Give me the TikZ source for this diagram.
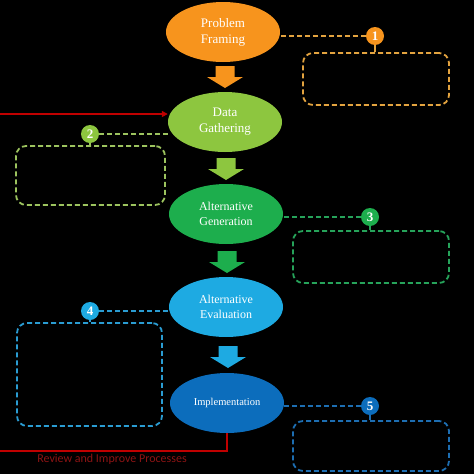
\documentclass[tikz,border=0pt]{standalone}
\usepackage{fontspec}
\setmainfont{Liberation Serif}
\newfontfamily\calibrifont{Carlito}
\usetikzlibrary{shapes.geometric,arrows.meta}

\definecolor{stageA}{HTML}{F7941D}
\definecolor{stageB}{HTML}{8DC63F}
\definecolor{stageC}{HTML}{1DAE4D}
\definecolor{stageD}{HTML}{1EAAE2}
\definecolor{stageE}{HTML}{0C6DBC}
\definecolor{boxA}{HTML}{E3A33F}
\definecolor{boxB}{HTML}{9CC35E}
\definecolor{boxC}{HTML}{26A35A}
\definecolor{boxD}{HTML}{2A9CD2}
\definecolor{boxE}{HTML}{1D6EB2}
\definecolor{loopred}{HTML}{C00000}
\definecolor{looptext}{HTML}{8E1414}

\tikzset{
	stage/.style={ellipse, minimum width=114pt, minimum height=60pt, inner sep=0pt, align=center, text=white, font=\fontsize{12}{15}\selectfont},
	badge/.style={circle, minimum size=18pt, inner sep=0pt, text=white, font=\fontsize{13}{13}\selectfont\bfseries},
	notebox/.style={draw, dashed, dash pattern=on 5pt off 3pt, rounded corners=10pt, line width=1.8pt},
	link/.style={dash pattern=on 5pt off 3pt, line width=1.8pt},
	loopline/.style={loopred, line width=2pt}
}

\newcommand{\flowarrow}[3]{
	\fill[#1] ({#2-9.5},#3) -- ({#2+9.5},#3) -- ({#2+9.5},{#3+11}) -- ({#2+18},{#3+11}) -- (#2,{#3+22}) -- ({#2-18},{#3+11}) -- ({#2-9.5},{#3+11}) -- cycle;
}

\begin{document}
\begin{tikzpicture}[x=1pt,y=-1pt]
	\fill[black] (0,0) rectangle (474,474);
	\useasboundingbox (0,0) rectangle (474,474);

	\node[stage, fill=stageA, font=\fontsize{13}{16}\selectfont] (frame) at (223,32) {Problem\\Framing};
	\node[stage, fill=stageB, font=\fontsize{13}{16}\selectfont] (gather) at (225,122) {Data\\Gathering};
	\node[stage, fill=stageC] (gen) at (226,214) {Alternative\\Generation};
	\node[stage, fill=stageD] (eval) at (226,307) {Alternative\\Evaluation};
	\node[stage, fill=stageE, font=\fontsize{10.5}{12}\selectfont] (impl) at (227,403) {Implementation};

	\flowarrow{stageA}{225}{66}
	\flowarrow{stageB}{226}{158}
	\flowarrow{stageC}{227}{251}
	\flowarrow{stageD}{228}{346}

	\node[badge, fill=stageA] (b1) at (375,36) {1};
	\node[badge, fill=stageB] (b2) at (90,134) {2};
	\node[badge, fill=stageC] (b3) at (370,217) {3};
	\node[badge, fill=stageD] (b4) at (90,311) {4};
	\node[badge, fill=stageE] (b5) at (370,406) {5};

	\node[notebox, boxA, minimum width=146pt, minimum height=52pt] (n1) at (376,79) {};
	\node[notebox, boxB, minimum width=149pt, minimum height=59pt] (n2) at (90.5,175.5) {};
	\node[notebox, boxC, minimum width=156pt, minimum height=52pt] (n3) at (371,257) {};
	\node[notebox, boxD, minimum width=145pt, minimum height=103pt] (n4) at (89.5,374.5) {};
	\node[notebox, boxE, minimum width=156pt, minimum height=50pt] (n5) at (371,446) {};

	\draw[link, boxA] (b1.west) -- (b1.west -| frame.east);
	\draw[link, boxB] (b2.east) -- (b2.east -| gather.west);
	\draw[link, boxC] (b3.west) -- (b3.west -| gen.east);
	\draw[link, boxD] (b4.east) -- (b4.east -| eval.west);
	\draw[link, boxE] (b5.west) -- (b5.west -| impl.east);

	\draw[boxA, line width=1.8pt] (b1.south) -- (b1 |- n1.north);
	\draw[boxB, line width=1.8pt] (b2.south) -- (b2 |- n2.north);
	\draw[boxC, line width=1.8pt] (b3.south) -- (b3 |- n3.north);
	\draw[boxD, line width=1.8pt] (b4.south) -- (b4 |- n4.north);
	\draw[boxE, line width=1.8pt] (b5.south) -- (b5 |- n5.north);

	\coordinate (loopin) at (0,114);
	\coordinate (loopout) at (0,451);
	\draw[loopline, -{Triangle[length=6pt,width=6pt]}] (loopin) -- (loopin -| gather.west);
	\draw[loopline] (impl.south) |- (loopout);
	\node[text=looptext, font=\calibrifont\fontsize{12}{14}\selectfont] (review) at (112,459) {Review and Improve Processes};
\end{tikzpicture}
\end{document}
